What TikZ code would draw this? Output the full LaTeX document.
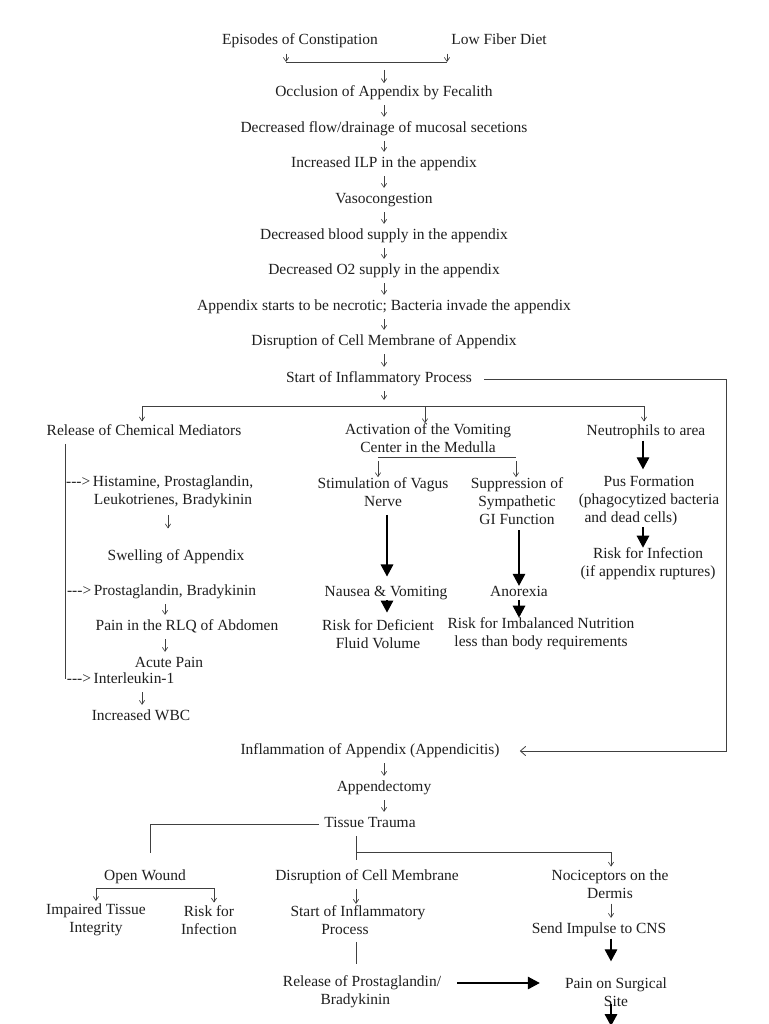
\documentclass[tikz,border=0pt]{standalone}
\usepackage{fontspec}
\setmainfont{Liberation Serif}
\usetikzlibrary{arrows.meta}
\begin{document}
\begin{tikzpicture}[x=0.75pt,y=-0.75pt,
  every node/.style={inner sep=0pt, font=\fontsize{11.6}{13.5}\selectfont, text=black!88},
  lbl/.style={text height=8pt, text depth=2.4pt, yshift=-1.5pt},
  mlbl/.style={align=center},
  ln/.style={line width=0.6pt, draw=black!75},
  ta/.style={ln, line width=0.5pt, -{Straight Barb[length=3pt,width=4pt]}, shorten <=3.7pt, shorten >=3.7pt},
  tk/.style={ln, line width=0.5pt, -{Straight Barb[length=3pt,width=4pt]}},
  ba/.style={line width=0.8pt, draw=black, -{Triangle[length=9pt,width=9.5pt]}},
]
\fill[white] (0,0) rectangle (768,1024);
\useasboundingbox (0,0) rectangle (768,1024);

% top
\node[lbl] (ep) at (300,39) {Episodes of Constipation};
\node[lbl] (lf) at (499,39) {Low Fiber Diet};
\node[lbl] (occ) at (384,91) {Occlusion of Appendix by Fecalith};
\node[lbl] (dfl) at (384,127) {Decreased flow/drainage of mucosal secetions};
\node[lbl] (ilp) at (384,162) {Increased ILP in the appendix};
\node[lbl] (vas) at (384,198) {Vasocongestion};
\node[lbl] (dbs) at (384,234) {Decreased blood supply in the appendix};
\node[lbl] (do2) at (384,269) {Decreased O2 supply in the appendix};
\node[lbl] (nec) at (384,305) {Appendix starts to be necrotic; Bacteria invade the appendix};
\node[lbl] (dcm) at (384,340) {Disruption of Cell Membrane of Appendix};
\node[lbl] (sip) at (379,377) {Start of Inflammatory Process};

% three branches
\node[lbl] (rcm) at (144,430) {Release of Chemical Mediators};
\node[mlbl] (avc) at (428,438) {Activation of the Vomiting\\Center in the Medulla};
\node[lbl] (ntr) at (646,430) {Neutrophils to area};

% left column
\node[mlbl] (hst) at (173,492) {\llap{-{}-{}->\,}Histamine, Prostaglandin,\\Leukotrienes, Bradykinin};
\node[lbl] (swl) at (176,555) {Swelling of Appendix};
\node[lbl] (pbr) at (175,590) {\llap{-{}-{}->\,}Prostaglandin, Bradykinin};
\node[lbl] (prl) at (187,625) {Pain in the RLQ of Abdomen};
\node[lbl] (acp) at (169,662) {Acute Pain};
\node[lbl] (il1) at (134,678) {\llap{-{}-{}->\,}Interleukin-1};
\node[lbl] (wbc) at (141,715) {Increased WBC};

% middle column
\node[mlbl] (svn) at (383,492) {Stimulation of Vagus\\Nerve};
\node[mlbl] (ssg) at (517,501) {Suppression of\\Sympathetic\\GI Function};
\node[lbl] (nav) at (386,591) {Nausea \& Vomiting};
\node[lbl] (anx) at (519,591) {Anorexia};
\node[mlbl] (rdf) at (378,634) {Risk for Deficient\\Fluid Volume};
\node[mlbl] (rin) at (541,634) {Risk for Imbalanced Nutrition\\less than body requirements};

% right column
\node[mlbl] (pus) at (649,501) {Pus Formation\\(phagocytized bacteria\\and dead cells)\hspace*{27pt}};
\node[mlbl] (rfi) at (648,564) {Risk for Infection\\(if appendix ruptures)};

% lower part
\node[lbl] (inf) at (370,749) {Inflammation of Appendix (Appendicitis)};
\node[lbl] (apx) at (384,786) {Appendectomy};
\node[lbl] (ttr) at (370,822) {Tissue Trauma};
\node[lbl] (own) at (145,875) {Open Wound};
\node[mlbl] (itg) at (96,920) {Impaired Tissue\\Integrity};
\node[mlbl] (rfi2) at (209,920) {Risk for\\Infection};
\node[lbl] (dcm2) at (367,875) {Disruption of Cell Membrane};
\node[mlbl] (sip2) at (358,920) {Start of Inflammatory\\Process\hspace*{19.5pt}};
\node[mlbl] (rpb) at (362,992) {Release of Prostaglandin/\\Bradykinin\hspace*{10pt}};
\node[mlbl] (noc) at (610,884) {Nociceptors on the\\Dermis};
\node[lbl] (sic) at (599,928) {Send Impulse to CNS};
\node[mlbl] (pss) at (616,992) {Pain on Surgical\\Site};

% helper coordinates
\coordinate (b1L) at (286,62);
\coordinate (b1R) at (447,62);
\coordinate (b1M) at (384,62);
\coordinate (xc) at (384,0);
\coordinate (b2M) at (384,406);
\coordinate (b2L) at (142,406);
\coordinate (b2C) at (425,406);
\coordinate (b2R) at (644,406);
\coordinate (vT) at (65,443);
\coordinate (vB) at (65,679);
\coordinate (xa) at (168,0);
\coordinate (xb) at (165,0);
\coordinate (xw) at (142,0);
\coordinate (vL) at (378,457);
\coordinate (vR) at (516,457);
\coordinate (xn) at (387,0);
\coordinate (xs) at (519,0);
\coordinate (xp) at (643,0);
\coordinate (rr) at (726,751);
\coordinate (tl2) at (150,853);
\coordinate (tv) at (356,0);
\coordinate (tvb) at (356,860);
\coordinate (tj) at (356,852);
\coordinate (tjR) at (611,852);
\coordinate (oL) at (96,888);
\coordinate (oR) at (214,888);
\coordinate (endB) at (611,1026);

% top bracket
\draw[tk, shorten <=4pt] (ep.south -| b1L) -- (b1L);
\draw[tk, shorten <=4pt] (lf.south -| b1R) -- (b1R);
\draw[ln] (b1L) -- (b1R);
\draw[ta, shorten <=6pt, shorten >=2pt] (b1M) -- (occ.north -| b1M);

% main chain
\draw[ta] (occ) -- (dfl);
\draw[ta] (dfl) -- (ilp);
\draw[ta] (ilp) -- (vas);
\draw[ta] (vas) -- (dbs);
\draw[ta] (dbs) -- (do2);
\draw[ta] (do2) -- (nec);
\draw[ta] (nec) -- (dcm);
\draw[ta] (dcm.south) -- (sip.north -| dcm.south);

% branch bracket
\draw[ta, shorten >=4.5pt] (sip.south -| b2M) -- (b2M);
\draw[ln] (b2L) -- (b2R);
\draw[tk, shorten >=2.5pt] (b2L) -- (b2L |- rcm.north);
\draw[tk] (b2C) -- (b2C |- avc.north);
\draw[tk, shorten >=2.5pt] (b2R) -- (b2R |- ntr.north);

% loop to inflammation
\draw[ln, -{Straight Barb[length=4pt,width=7pt]}, shorten <=9pt, shorten >=15pt]
  (sip.east) -- (sip.east -| rr) -- (rr) -- (rr -| inf.east);

% left column
\draw[ln, shorten <=3.5pt] (rcm.south -| vT) -- (vB);
\draw[ta, shorten <=5pt, shorten >=16pt] (hst.south -| xa) -- (swl.north -| xa);
\draw[ta] (pbr.south -| xb) -- (prl.north -| xb);
\draw[ta] (prl.south -| xb) -- (acp.north -| xb);
\draw[ta] (il1.south -| xw) -- (wbc.north -| xw);

% vomiting
\draw[ln] (vL) -- (vR);
\draw[tk, shorten <=3pt] (vL) -- (vL |- svn.north);
\draw[tk, shorten <=3pt] (vR) -- (vR |- ssg.north);
\draw[ba, shorten <=6pt, shorten >=7pt] (svn.south -| xn) -- (nav.north -| xn);
\draw[ba, shorten >=5pt] (nav.south -| xn) -- (rdf.north -| xn);
\draw[ba, shorten <=4pt] (ssg.south -| xs) -- (anx.north -| xs);
\draw[ba] (anx.south -| xs) -- (rin.north -| xs);

% neutrophils
\draw[ba, shorten <=1pt, shorten >=5pt] (ntr.south -| xp) -- (pus.north -| xp);
\draw[ba, shorten <=1pt] (pus.south -| xp) -- (rfi.north -| xp);

% lower chain
\draw[ta] (inf.south -| xc) -- (apx.north -| xc);
\draw[ta] (apx) -- (ttr.north -| xc);
\draw[ln, shorten <=3.75pt] (ttr.west) -- (ttr.west -| tl2) -- (tl2);
\draw[ln, shorten <=3.5pt] (ttr.south -| tv) -- (tvb);
\draw[ln] (tj) -- (tjR);
\draw[tk, shorten >=2pt] (tjR) -- (noc.north -| tjR);
\draw[ln] (oL) -- (oR);
\draw[tk, shorten >=2pt] (oL) -- (oL |- itg.north);
\draw[tk, shorten >=2pt] (oR) -- (oR |- rfi2.north);
\draw[ta, shorten <=3.5pt, shorten >=1pt] (dcm2.south -| tv) -- (sip2.north -| tv);
\draw[ln, shorten <=5.25pt, shorten >=9pt] (sip2.south -| tv) -- (rpb.north -| tv);
\draw[ta] (noc.south -| tjR) -- (sic.north -| tjR);
\draw[ba, shorten <=1pt, shorten >=12pt] (sic.south -| tjR) -- (pss.north -| tjR);
\draw[ba] ([xshift=12pt,yshift=6.75pt]rpb.east) -- ([xshift=-18.75pt,yshift=6.75pt]pss.west);
\draw[ba, shorten <=-2pt] (pss.south -| tjR) -- (endB);
\end{tikzpicture}
\end{document}
